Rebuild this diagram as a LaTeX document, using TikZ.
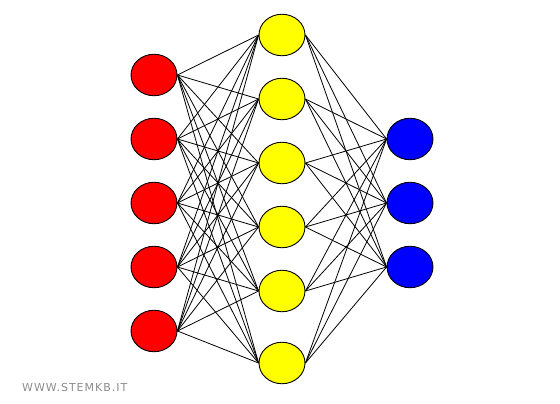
\documentclass[tikz,border=0pt]{standalone}
\usepackage{fontspec}
\usetikzlibrary{shapes.geometric}
\newfontfamily\wmfont[LetterSpace=9]{DejaVu Sans}
\begin{document}
\begin{tikzpicture}[x=1pt,y=-1pt,
  neuron/.style={draw=black,line width=0.9pt,ellipse,minimum width=46pt,minimum height=41.5pt,inner sep=0pt},
  link/.style={draw=black,line width=0.8pt}]
\useasboundingbox (0,0) rectangle (560,404);
\foreach \i/\y in {1/75,2/139,3/203,4/267,5/331}
  \node[neuron,fill={rgb,255:red,255;green,0;blue,0}] (r\i) at (154,\y) {};
\foreach \i/\y in {1/35,2/99,3/163,4/227,5/291,6/363}
  \node[neuron,fill={rgb,255:red,255;green,255;blue,0}] (h\i) at (282,\y) {};
\foreach \i/\y in {1/139,2/203,3/267}
  \node[neuron,fill={rgb,255:red,0;green,0;blue,255}] (o\i) at (410,\y) {};
\foreach \i in {1,...,5}
  \foreach \j in {1,...,6}
    \draw[link] (r\i.east) -- (h\j.west);
\foreach \j in {1,...,6}
  \foreach \k in {1,...,3}
    \draw[link] (h\j.east) -- (o\k.west);
\node[anchor=base west,inner sep=0pt,text={rgb,255:red,140;green,140;blue,140},font=\wmfont\fontsize{11}{13}\selectfont] (wm) at (22,391) {WWW.STEMKB.IT};
\end{tikzpicture}
\end{document}
